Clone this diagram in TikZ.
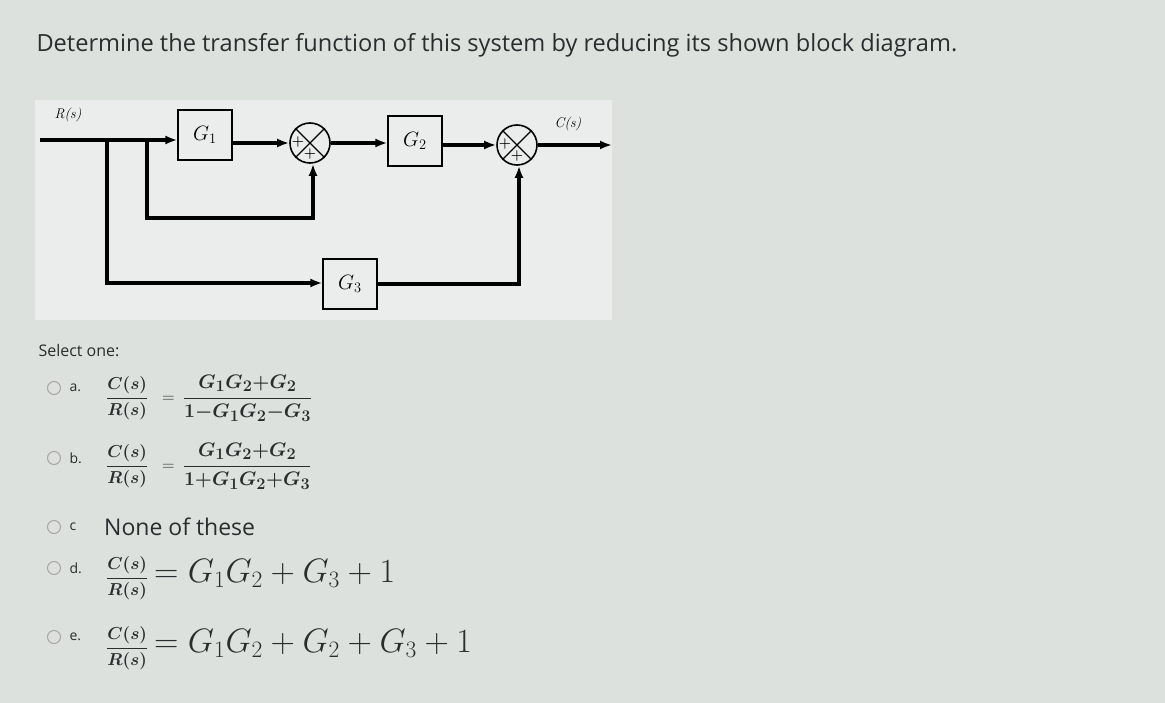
\documentclass[tikz,border=0pt]{standalone}
\usepackage{amsmath}
\usepackage{graphicx}
\usepackage{fontspec}
\setsansfont{Open Sans}
\usetikzlibrary{arrows.meta}
\definecolor{bg}{HTML}{DCE1DE}
\definecolor{panel}{HTML}{EBEDEC}
\definecolor{txt}{HTML}{2A2D2E}
\newcommand{\fr}{\fontsize{17}{19}\selectfont$\displaystyle\boldsymbol{\frac{C(s)}{R(s)}}$}
\tikzset{
  x=1pt,y=-1pt,
  sig/.style={line width=3.6pt,-{Latex[length=12pt,width=9pt]}},
  ln/.style={line width=3.6pt},
  blk/.style={draw,line width=1.2pt,fill=panel,minimum width=54pt,minimum height=50pt,inner sep=0pt,font=\fontsize{20}{22}\selectfont},
  sumj/.style={draw,circle,line width=1.6pt,minimum size=40pt,inner sep=0pt,fill=panel},
  radio/.style={draw=gray!70,circle,line width=1pt,minimum size=13pt,inner sep=0pt},
  pl/.style={font=\fontsize{14}{14}\selectfont\bfseries,inner sep=0pt},
}
\begin{document}
\begin{tikzpicture}
\useasboundingbox (0,0) rectangle (1165,703);
\fill[bg] (0,0) rectangle (1165,703);
\fill[panel] (35,100) rectangle (612,320);
\node[anchor=west,font=\sffamily\fontsize{23.6}{26}\selectfont,text=txt] (title) at (33,45) {Determine the transfer function of this system by reducing its shown block diagram.};
% diagram
\coordinate (rin) at (40,140);
\coordinate (b1) at (107,140);
\coordinate (b2) at (147,140);
\node[blk] (g1) at (205,135) {$G_1$};
\node[sumj] (s1) at (310,143) {};
\draw[line width=1.4pt] (s1.45)--(s1.225) (s1.135)--(s1.315);
\node[pl] at (298,142) {+};
\node[pl] at (310,154) {+};
\node[blk] (g2) at (415,141) {$G_2$};
\node[sumj] (s2) at (517,145) {};
\draw[line width=1.4pt] (s2.45)--(s2.225) (s2.135)--(s2.315);
\node[pl] at (505,144) {+};
\node[pl] at (517,156) {+};
\node[blk] (g3) at (350,284) {$G_3$};
\coordinate (cout) at (612,145);
\node[font=\fontsize{14}{16}\selectfont\itshape] (rl) at (68,115) {R(s)};
\node[font=\fontsize{14}{16}\selectfont\itshape] (cl) at (568,124) {C(s)};
\draw[ln] (rin)--(b2);
\draw[sig] (b2)--(g1.west|-b2);
\draw[sig] (g1.east|-s1)--(s1.west);
\draw[sig] (s1.east)--(g2.west|-s1);
\draw[sig] (g2.east|-s2)--(s2.west);
\draw[sig] (s2.east)--(cout);
\draw[sig] (b2)--(147,218)--(313,218)--(s1.south-|313,0);
\draw[sig] (b1)--(107,283)--(g3.west|-0,283);
\draw[sig] (g3.east|-0,284)--(519,284)--(s2.south-|519,0);
% options
\node[anchor=west,font=\sffamily\fontsize{16}{18}\selectfont,text=txt] (sel) at (35,351) {Select one:};
\foreach \y/\l [count=\i] in {388/a.,458/b.,527/c,568/d.,637/e.}{
  \node[radio] (r\i) at (54,\y) {};
  \node[anchor=west,font=\sffamily\fontsize{14}{16}\selectfont,text=txt] (l\i) at (66,\y) {\l};
}
\node[anchor=west,text=txt,inner sep=0pt] (ea) at (106,398) {\fr\hspace{14pt}\fontsize{19}{21}\selectfont$\displaystyle=$\hspace{8pt}\scalebox{1.13}{$\displaystyle\boldsymbol{\frac{G_1G_2{+}G_2}{1{-}G_1G_2{-}G_3}}$}};
\node[anchor=west,text=txt,inner sep=0pt] (eb) at (106,466) {\fr\hspace{14pt}\fontsize{19}{21}\selectfont$\displaystyle=$\hspace{8pt}\scalebox{1.13}{$\displaystyle\boldsymbol{\frac{G_1G_2{+}G_2}{1{+}G_1G_2{+}G_3}}$}};
\node[anchor=west,font=\sffamily\fontsize{23}{25}\selectfont,text=txt,inner sep=0pt] (ec) at (104,527) {None of these};
\node[anchor=west,text=txt,inner sep=0pt] (ed) at (106,578) {\fr\hspace{6pt}\scalebox{1.36}{\fontsize{25}{27}\selectfont$=G_1G_2+G_3+1$}};
\node[anchor=west,text=txt,inner sep=0pt] (ee) at (106,648) {\fr\hspace{6pt}\scalebox{1.36}{\fontsize{25}{27}\selectfont$=G_1G_2+G_2+G_3+1$}};
\end{tikzpicture}
\end{document}
